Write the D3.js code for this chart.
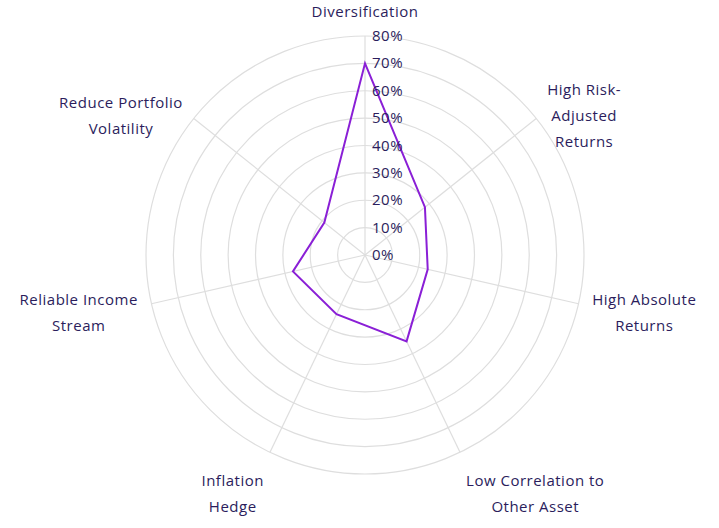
<!DOCTYPE html>
<html>
<head>
<meta charset="utf-8">
<script src="https://cdn.jsdelivr.net/npm/d3@7"></script>
<style>
  body { margin: 0; background: #fff; }
  text { font-family: "Open Sans", "Noto Sans", sans-serif; fill: #2b1d5c; letter-spacing: 0.5px; }
</style>
</head>
<body>
<div id="chart"></div>
<script>
// axis names, already split into the lines shown in the picture
var categories = [
    ["Diversification"],
    ["High Risk-", "Adjusted", "Returns"],
    ["High Absolute", "Returns"],
    ["Low Correlation to", "Other Asset"],
    ["Inflation", "Hedge"],
    ["Reliable Income", "Stream"],
    ["Reduce Portfolio", "Volatility"]
];
var values = [70, 28, 23.5, 35, 24, 27, 19];
var ticks = [0, 10, 20, 30, 40, 50, 60, 70, 80];

function init() {
    var w = 719;
    var h = 528;
    var cx = 365;
    var cy = 255;
    var outer = 219;
    var labelGap = 14;
    var lineH = 26;

    var svg = d3.select("#chart")
        .append("svg")
        .attr("width", w)
        .attr("height", h);

    var rScale = d3.scaleLinear()
        .domain([0, d3.max(ticks)])
        .range([0, outer]);

    var angle = d3.scaleLinear()
        .domain([0, categories.length])
        .range([0, 2 * Math.PI]);

    var g = svg.append("g")
        .attr("transform", "translate(" + cx + "," + cy + ")");

    // rings
    g.selectAll(".ring")
        .data(ticks.slice(1))
        .enter()
        .append("circle")
        .attr("class", "ring")
        .attr("r", function(d) { return rScale(d); })
        .attr("fill", "none")
        .attr("stroke", "#dedede")
        .attr("stroke-width", 1.2);

    // spokes
    g.selectAll(".spoke")
        .data(categories)
        .enter()
        .append("line")
        .attr("class", "spoke")
        .attr("x1", 0)
        .attr("y1", 0)
        .attr("x2", function(d, i) { return outer * Math.sin(angle(i)); })
        .attr("y2", function(d, i) { return -outer * Math.cos(angle(i)); })
        .attr("stroke", "#dedede")
        .attr("stroke-width", 1.2);

    // the data line
    var radar = d3.lineRadial()
        .angle(function(d, i) { return angle(i); })
        .radius(function(d) { return rScale(d); })
        .curve(d3.curveLinearClosed);

    g.append("path")
        .datum(values)
        .attr("d", radar)
        .attr("fill", "none")
        .attr("stroke", "#8a1fd6")
        .attr("stroke-width", 2)
        .attr("stroke-linejoin", "miter");

    // tick labels along the top spoke
    g.selectAll(".tick-label")
        .data(ticks)
        .enter()
        .append("text")
        .attr("class", "tick-label")
        .attr("x", 7)
        .attr("y", function(d) { return -rScale(d) - 1; })
        .attr("dominant-baseline", "central")
        .style("font-size", "15px")
        .text(function(d) { return d + "%"; });

    // axis names
    var labels = g.selectAll(".axis-label")
        .data(categories)
        .enter()
        .append("text")
        .attr("class", "axis-label")
        .attr("text-anchor", "middle")
        .style("font-size", "15px");

    labels.each(function(lines, i) {
        var t = d3.select(this);
        lines.forEach(function(line) {
            t.append("tspan").text(line);
        });
        var widest = 0;
        t.selectAll("tspan").each(function() {
            widest = Math.max(widest, this.getComputedTextLength());
        });
        var a = angle(i);
        var s = Math.sin(a), c = Math.cos(a);
        var px = (outer + labelGap) * s;
        var py = -(outer + labelGap) * c;
        var bh = lines.length * lineH;
        var mx = px;
        if (s > 0.05) mx = px + widest / 2;
        if (s < -0.05) mx = px - widest / 2;
        var top;
        if (c > 0.8) top = py - bh + 2;
        else if (c < -0.8) top = py + 2;
        else top = py - bh / 2 + 5;
        t.selectAll("tspan")
            .attr("x", mx)
            .attr("y", function(d, j) { return top + lineH * j + lineH / 2; })
            .attr("dominant-baseline", "central");
    });
}

window.onload = init;
</script>
</body>
</html>
